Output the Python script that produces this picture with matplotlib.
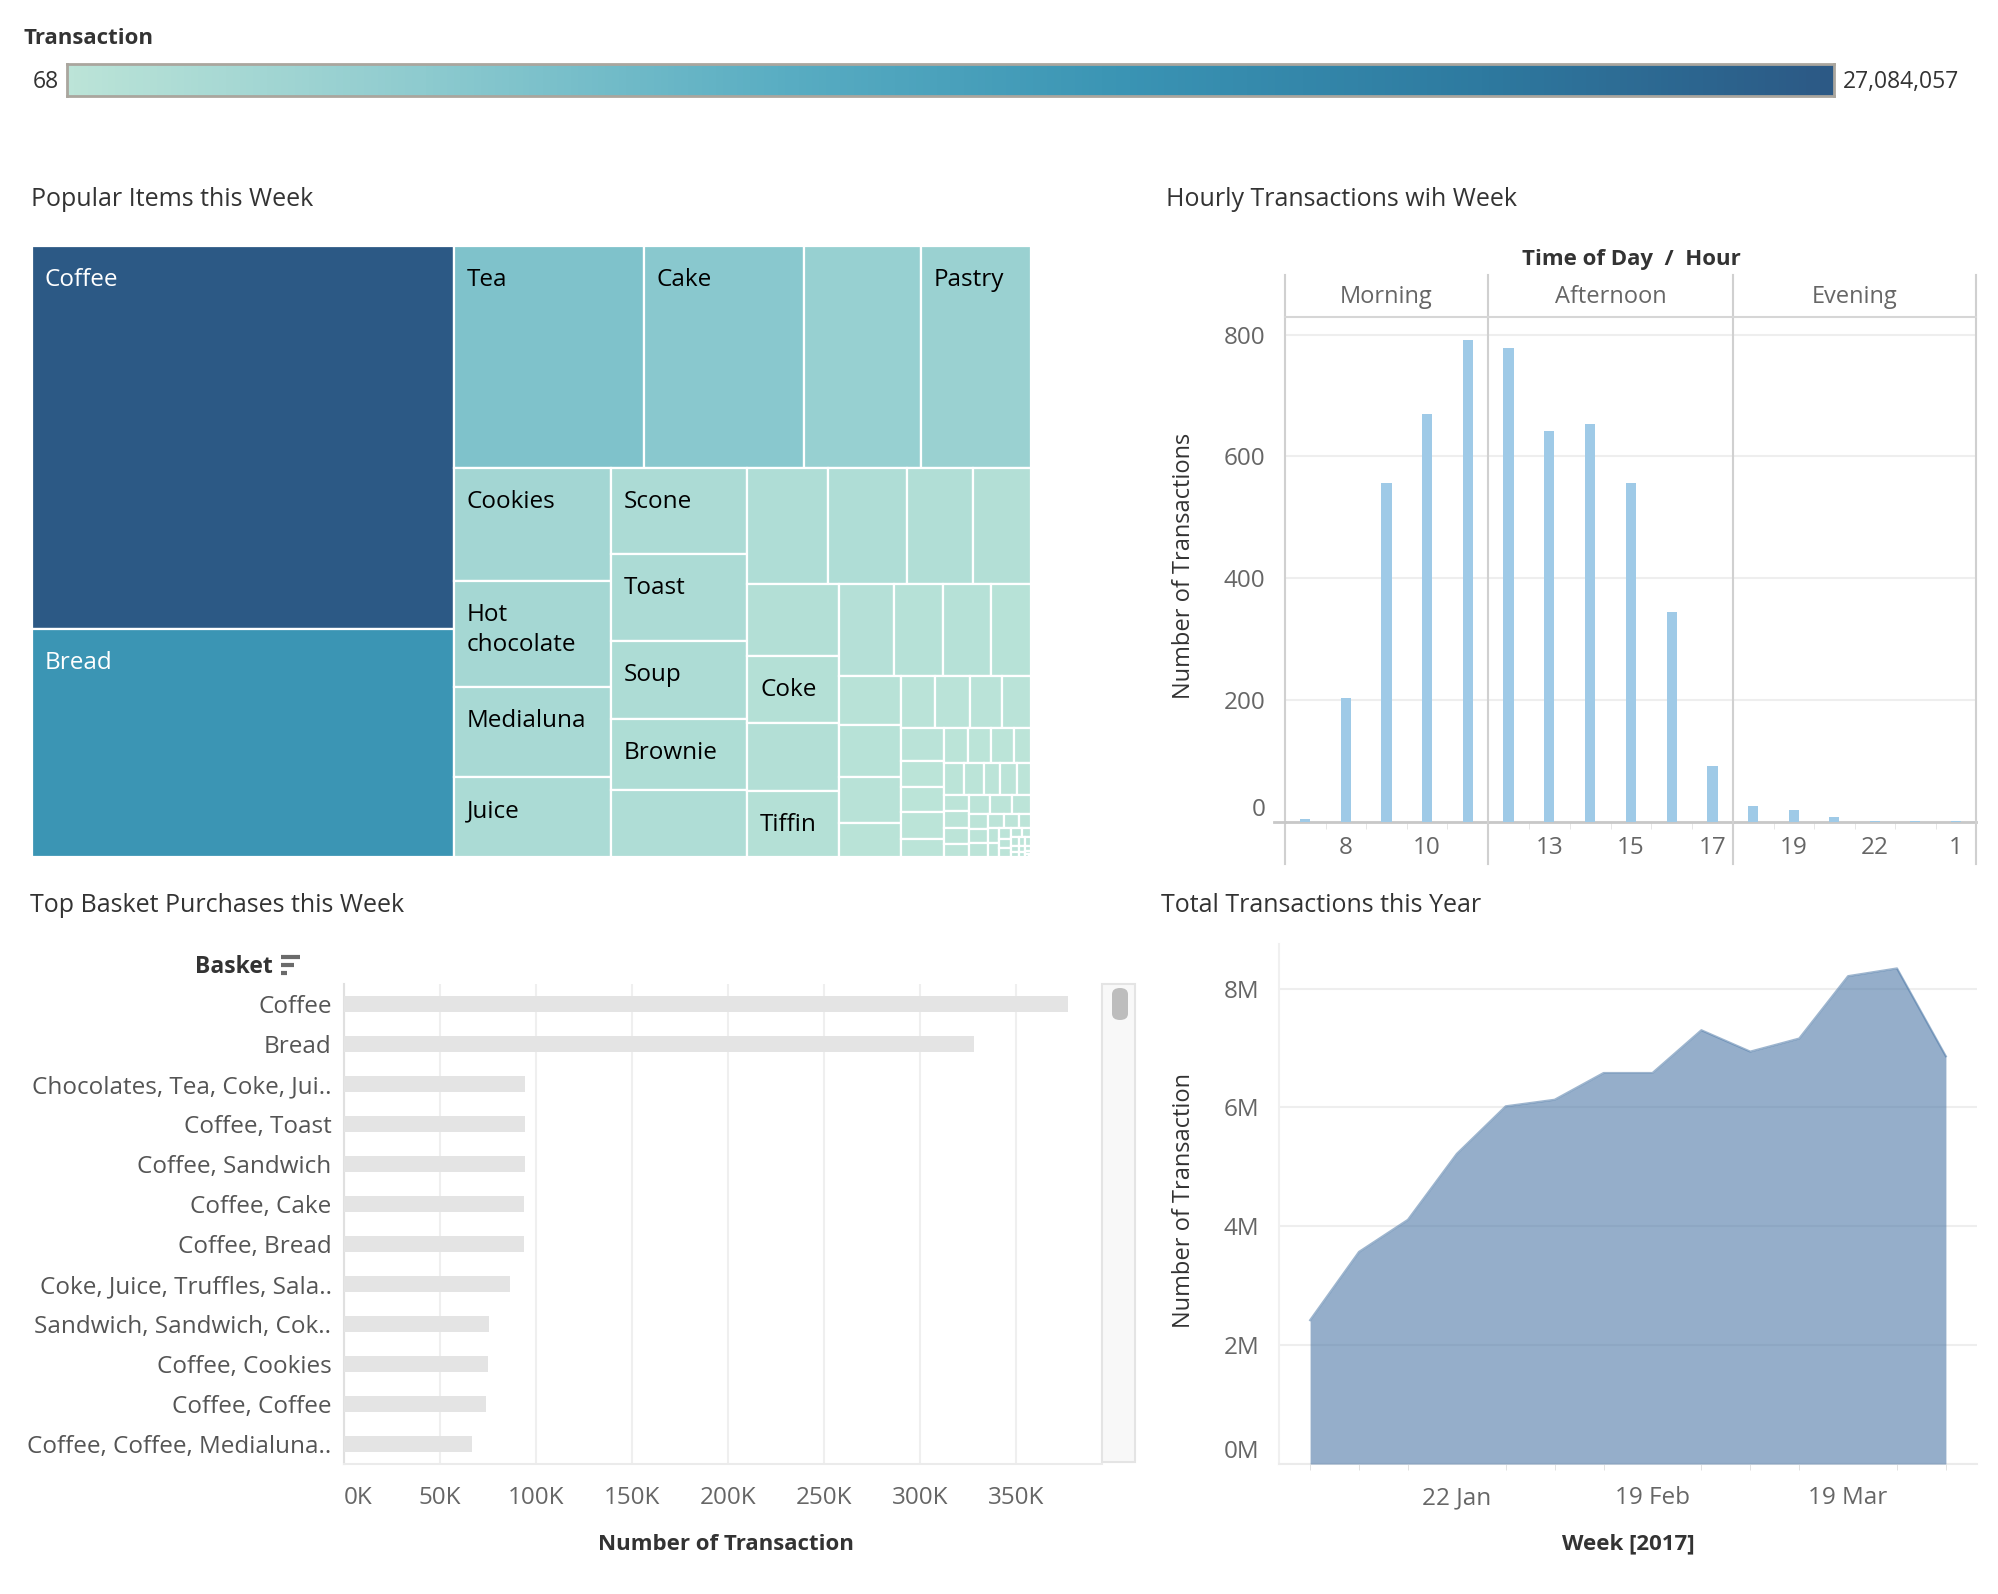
import matplotlib
matplotlib.use('Agg')
import matplotlib.pyplot as plt
import matplotlib.dates as mdates
from matplotlib.colors import LinearSegmentedColormap
from matplotlib.patches import Rectangle, FancyBboxPatch
from matplotlib.lines import Line2D
from matplotlib import ticker
import numpy as np
import pandas as pd

plt.rcParams['font.family'] = ['Open Sans', 'DejaVu Sans']

# ---------------- data ----------------
legend_min, legend_max = 68, 27084057

# treemap: transactions per item (millions), in Tableau's layout order
item_labels = ['Coffee', 'Bread',
               'Tea', 'Cake', '', 'Pastry',
               'Cookies', 'Hot\nchocolate', 'Medialuna', 'Juice',
               'Scone', 'Toast', 'Soup', 'Brownie', '',
               '', '', '', '',
               '', 'Coke', '', 'Tiffin']
item_values = [27.08, 16.17,
               7.07, 5.98, 4.34, 4.10,
               2.99, 2.79, 2.39, 2.10,
               1.98, 1.98, 1.80, 1.62, 1.54,
               1.57, 1.53, 1.29, 1.13,
               1.12, 1.02, 1.06, 1.01,
               0.855, 0.76, 0.75, 0.625,
               0.51, 0.53, 0.485, 0.35,
               0.30, 0.295, 0.28, 0.25,
               0.24, 0.19, 0.18, 0.19, 0.13,
               0.145, 0.14, 0.135, 0.10,
               0.108, 0.108, 0.085, 0.09, 0.074,
               0.07, 0.075, 0.07, 0.055,
               0.065, 0.07, 0.06, 0.048, 0.042, 0.045, 0.04, 0.035, 0.03,
               0.028, 0.025, 0.022, 0.02, 0.018, 0.016, 0.014, 0.012, 0.01,
               0.009, 0.008, 0.007, 0.006, 0.005, 0.004, 0.003, 0.002,
               0.001, 0.000068]
# number of cells per strip, as tableau groups them
strip_sizes = [2, 4, 4, 5, 4, 4, 4, 4, 4, 5, 4, 5, 4]

# hourly transactions
periods = ['Morning', 'Afternoon', 'Evening']
period_hours = [[7, 8, 9, 10, 11],
                [12, 13, 14, 15, 16, 17],
                [18, 19, 20, 22, 23, 1]]
period_counts = [[5, 203, 557, 669, 791],
                 [778, 642, 653, 557, 345, 92],
                 [26, 20, 9, 1, 2, 1]]

# top baskets
baskets = ['Coffee', 'Bread', 'Chocolates, Tea, Coke, Jui..', 'Coffee, Toast',
           'Coffee, Sandwich', 'Coffee, Cake', 'Coffee, Bread',
           'Coke, Juice, Truffles, Sala..', 'Sandwich, Sandwich, Cok..',
           'Coffee, Cookies', 'Coffee, Coffee', 'Coffee, Coffee, Medialuna..']
basket_counts = [376600, 327700, 94300, 94300, 94300, 93600, 93600,
                 86300, 75600, 74900, 73700, 66500]

# weekly totals
weeks = ['2017-01-01', '2017-01-08', '2017-01-15', '2017-01-22', '2017-01-29',
         '2017-02-05', '2017-02-12', '2017-02-19', '2017-02-26', '2017-03-05',
         '2017-03-12', '2017-03-19', '2017-03-26', '2017-04-02']
week_totals = [2.42e6, 3.57e6, 4.11e6, 5.22e6, 6.02e6, 6.13e6, 6.58e6,
               6.58e6, 7.30e6, 6.94e6, 7.16e6, 8.21e6, 8.34e6, 6.86e6]

# ---------------- figure ----------------
W, H = 1998, 1594
fig = plt.figure(figsize=(W / 100, H / 100), dpi=100)

def box(x0, y0, x1, y1):
    return [x0 / W, 1 - y1 / H, (x1 - x0) / W, (y1 - y0) / H]

def ftext(x, y, s, **kw):
    fig.text(x / W, 1 - y / H, s, **kw)

def fline(x0, y0, x1, y1, **kw):
    fig.add_artist(Line2D([x0 / W, x1 / W], [1 - y0 / H, 1 - y1 / H], **kw))

dark = '#333333'
grey = '#666666'
cmap = LinearSegmentedColormap.from_list(
    'blueteal', ['#bce4d8', '#8ecbcf', '#5aaec3', '#3a94b4', '#2e7aa0', '#2c5985'])

# ---- colour legend
ftext(23, 38, 'Transaction', fontsize=16, fontweight='bold', color=dark, va='center')
lax = fig.add_axes(box(67, 64, 1834, 96))
lax.imshow(np.linspace(0, 1, 512).reshape(1, -1), aspect='auto', cmap=cmap)
lax.set_xticks([]); lax.set_yticks([])
for sp in lax.spines.values():
    sp.set_color('#aaa69e'); sp.set_linewidth(2)
ftext(59, 82, f'{legend_min}', fontsize=16.5, color=dark, ha='right', va='center')
ftext(1843, 82, f'{legend_max:,}', fontsize=16.5, color=dark, ha='left', va='center')

# ---- treemap
def worst(row, side):
    s = sum(row)
    return max(max(side * side * r / (s * s), s * s / (side * side * r)) for r in row)

def treemap_rects(values, x, y, dx, dy, strips):
    total = sum(values)
    areas = [v * dx * dy / total for v in values]
    rects = []
    i, k = 0, 0
    while i < len(areas):
        side = min(dx, dy)
        if k < len(strips):
            n = strips[k]
        else:
            n = 1
            while i + n < len(areas) and worst(areas[i:i + n + 1], side) <= worst(areas[i:i + n], side):
                n += 1
        k += 1
        row = areas[i:i + n]
        i += n
        s = sum(row)
        if dx >= dy:
            w = s / dy
            yy = y
            for a in row:
                rects.append((x, yy, w, a / w))
                yy += a / w
            x += w; dx -= w
        else:
            h = s / dx
            xx = x
            for a in row:
                rects.append((xx, y, a / h, h))
                xx += a / h
            y += h; dy -= h
    return rects

tm_box = (32, 246, 1031, 857)
tw, th = tm_box[2] - tm_box[0], tm_box[3] - tm_box[1]
tax = fig.add_axes(box(*tm_box))
tax.set_xlim(0, tw); tax.set_ylim(th, 0)
tax.axis('off')
rects = treemap_rects(item_values, 0, 0, tw, th, strip_sizes)
vmax = legend_max / 1e6
labels = item_labels + [''] * (len(item_values) - len(item_labels))
for (rx, ry, rw, rh), v, lab in zip(rects, item_values, labels):
    frac = v / vmax
    tax.add_patch(Rectangle((rx, ry), rw, rh, facecolor=cmap(frac),
                            edgecolor='white', linewidth=1.6))
    if lab:
        tax.text(rx + 13, ry + 22, lab, fontsize=17.5, va='top', ha='left',
                 color='white' if frac > 0.5 else 'black', linespacing=1.35)
ftext(31, 199, 'Popular Items this Week', fontsize=18, color=dark, va='center')

# ---- hourly transactions
ftext(1166, 199, 'Hourly Transactions wih Week', fontsize=18, color=dark, va='center')
ftext(1631, 259, 'Time of Day  /  Hour', fontsize=16, fontweight='bold', color=dark,
      ha='center', va='center')
edges = [1285, 1488, 1733, 1976]
ytop, ybot = 317, 822
for p, (name, hrs, cnts) in enumerate(zip(periods, period_hours, period_counts)):
    ax = fig.add_axes(box(edges[p], ytop, edges[p + 1], ybot))
    xs = np.arange(len(hrs))
    ax.bar(xs, cnts, width=0.25, color='#9fcae7', zorder=3)
    ax.set_xlim(-0.5, len(hrs) - 0.5)
    ax.set_ylim(0, 829)
    ax.set_yticks([0, 200, 400, 600, 800])
    ax.grid(axis='y', color='#eeeeee', linewidth=1.5, zorder=0)
    for sp in ['top', 'right', 'left']:
        ax.spines[sp].set_visible(False)
    ax.spines['bottom'].set_color('#c8c8c8'); ax.spines['bottom'].set_linewidth(2)
    ax.set_xticks(xs)
    ax.set_xticklabels([str(h) if i % 2 == 1 else '' for i, h in enumerate(hrs)])
    ax.set_xticks(xs[:-1] + 0.5, minor=True)
    ax.tick_params(axis='x', which='major', length=0, pad=10, labelsize=17.5, labelcolor=grey)
    ax.tick_params(axis='x', which='minor', length=5, color='#e2e2e2')
    if p == 0:
        ax.tick_params(axis='y', length=0, pad=14, labelsize=17.5, labelcolor=grey)
        ax.get_yticklabels()[0].set_va('bottom')
    else:
        ax.tick_params(axis='y', left=False, labelleft=False)
    ftext((edges[p] + edges[p + 1]) / 2, 297, name, fontsize=17, color=grey,
          ha='center', va='center')
for x in edges:
    fline(x, 275, x, 864, color='#d0d0d0', linewidth=1.5)
fline(edges[0], ytop, edges[-1], ytop, color='#d6d6d6', linewidth=1.5)
fline(1274, ybot, edges[0], ybot, color='#c8c8c8', linewidth=2)
ftext(1184, 566, 'Number of Transactions', fontsize=17, color=dark, rotation=90,
      ha='center', va='center')

# ---- top baskets
ftext(30, 905, 'Top Basket Purchases this Week', fontsize=18, color=dark, va='center')
ftext(195, 967, 'Basket', fontsize=16.5, fontweight='bold', color=dark, va='center')
for yy, x1 in [(957, 300), (965, 294), (973, 287)]:
    fline(281, yy, x1, yy, color='#6b6b6b', linewidth=3, solid_capstyle='butt')
bax = fig.add_axes(box(344, 984, 1102, 1464))
yb = np.arange(len(baskets))
bax.barh(yb, basket_counts, height=0.4, color='#e4e4e4', zorder=3)
bax.set_ylim(len(baskets) - 0.5, -0.5)
bax.set_xlim(0, 394500)
bax.set_yticks(yb)
bax.set_yticklabels(baskets)
bax.set_xticks(np.arange(0, 350001, 50000))
bax.xaxis.set_major_formatter(ticker.FuncFormatter(lambda v, p: f'{v / 1000:.0f}K'))
bax.tick_params(axis='y', length=0, pad=9, labelsize=17.5, labelcolor='#555555')
bax.tick_params(axis='x', length=0, pad=16, labelsize=17.5, labelcolor=grey)
bax.get_xticklabels()[0].set_ha('left')
bax.grid(axis='x', color='#efefef', linewidth=1.5, zorder=0)
for sp in ['top', 'right']:
    bax.spines[sp].set_visible(False)
bax.spines['left'].set_color('#e0e0e0'); bax.spines['left'].set_linewidth(1.5)
bax.spines['bottom'].set_color('#ebebeb'); bax.spines['bottom'].set_linewidth(1.5)
ftext(726, 1544, 'Number of Transaction', fontsize=16, fontweight='bold', color=dark,
      ha='center', va='center')
# scrollbar
fig.add_artist(Rectangle((1102 / W, 1 - 1462 / H), 33 / W, 478 / H,
                         facecolor='#f8f8f8', edgecolor='#e4e4e4', linewidth=1.5))
fig.add_artist(FancyBboxPatch((1112 / W, 1 - 1020 / H), 16 / W, 32 / H,
                              boxstyle='round,pad=0,rounding_size=0.004',
                              facecolor='#bdbdbd', edgecolor='none'))

# ---- weekly totals
ftext(1161, 905, 'Total Transactions this Year', fontsize=18, color=dark, va='center')
aax = fig.add_axes(box(1279, 944, 1977, 1464))
dates = pd.to_datetime(weeks)
aax.fill_between(dates, week_totals, color='#4e79a7', alpha=0.6, linewidth=0, zorder=3)
aax.plot(dates, week_totals, color='#4e79a7', alpha=0.55, linewidth=1.5, zorder=4)
pad = pd.Timedelta(days=4.45)
aax.set_xlim(dates[0] - pad, dates[-1] + pad)
aax.set_ylim(0, 8.75e6)
aax.set_yticks([0, 2e6, 4e6, 6e6, 8e6])
aax.yaxis.set_major_formatter(ticker.FuncFormatter(lambda v, p: f'{v / 1e6:.0f}M'))
aax.set_xticks(pd.to_datetime(['2017-01-22', '2017-02-19', '2017-03-19']))
aax.xaxis.set_major_formatter(mdates.DateFormatter('%d %b'))
aax.set_xticks(dates, minor=True)
aax.tick_params(axis='x', which='major', length=0, pad=16, labelsize=17.5, labelcolor=grey)
aax.tick_params(axis='x', which='minor', length=4, color='#dddddd')
aax.tick_params(axis='y', length=0, pad=14, labelsize=17.5, labelcolor=grey)
aax.get_yticklabels()[0].set_va('bottom')
aax.grid(axis='y', color='#eeeeee', linewidth=1.5, zorder=0)
for sp in ['top', 'right']:
    aax.spines[sp].set_visible(False)
aax.spines['left'].set_color('#f0f0f0'); aax.spines['left'].set_linewidth(1.5)
aax.spines['bottom'].set_color('#ebebeb'); aax.spines['bottom'].set_linewidth(1.5)
ftext(1184, 1200, 'Number of Transaction', fontsize=17, color=dark, rotation=90,
      ha='center', va='center')
ftext(1628, 1544, 'Week [2017]', fontsize=16, fontweight='bold', color=dark,
      ha='center', va='center')

fig.savefig('out.png', dpi=100, facecolor='white')
